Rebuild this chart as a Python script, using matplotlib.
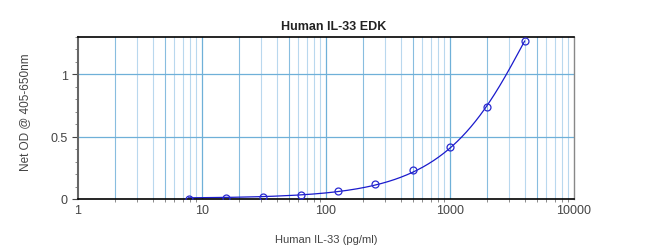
import numpy as np
import matplotlib
matplotlib.use("Agg")
import matplotlib.pyplot as plt
from matplotlib.ticker import LogLocator, FixedLocator, NullFormatter, MultipleLocator

plt.rcParams["font.family"] = ["Liberation Sans", "DejaVu Sans"]

conc = [7.8, 15.6, 31.25, 62.5, 125, 250, 500, 1000, 2000, 4000]
od = [0.0, 0.005, 0.015, 0.03, 0.063, 0.12, 0.23, 0.42, 0.735, 1.27]
xticks = [1, 10, 100, 1000, 10000]
xticklabels = ["1", "10", "100", "1000", "10000"]
yticks = [0, 0.5, 1]
yticklabels = ["0", "0.5", "1"]

fig = plt.figure(figsize=(6.5, 2.53), dpi=100)
ax = fig.add_axes([0.12, 0.2095, 0.763, 0.6405])
ax.set_xscale("log")
ax.set_xlim(1, 10000)
ax.set_ylim(0, 1.3)

# grid lines
for dec in [1, 10, 100, 1000]:
    for m in range(1, 10):
        v = dec * m
        if v <= 1:
            continue
        if m == 1:
            ax.axvline(v, color="#6fb0d8", lw=0.9, zorder=0)
        elif m in (2, 5):
            ax.axvline(v, color="#88bddf", lw=0.8, zorder=0)
        else:
            ax.axvline(v, color="#b9d8ee", lw=0.8, zorder=0)
for yv in [0.5, 1.0]:
    ax.axhline(yv, color="#6fb0d8", lw=0.9, zorder=0)

# fitted curve
c = np.polyfit(np.array(conc), np.array(od), 2)
xs = np.linspace(conc[0], conc[-1], 400)
ax.plot(xs, np.polyval(c, xs), color="#1a1acc", lw=0.9, zorder=2)
ax.plot(conc, od, linestyle="none", marker="o", ms=5, mfc="none",
        mec="#2a2ad0", mew=0.9, zorder=3)

ax.xaxis.set_major_locator(FixedLocator(xticks))
ax.set_xticklabels(xticklabels)
ax.xaxis.set_minor_locator(LogLocator(base=10, subs=(2, 3, 4, 5, 6, 7, 8, 9)))
ax.xaxis.set_minor_formatter(NullFormatter())
ax.set_yticks(yticks)
ax.set_yticklabels(yticklabels)
ax.yaxis.set_minor_locator(MultipleLocator(0.1))

ax.tick_params(axis="both", which="major", labelsize=9, colors="#444444",
               length=4, width=0.8, direction="out")
ax.tick_params(axis="x", which="minor", length=2, width=0.6, colors="#777777")
ax.tick_params(axis="y", which="minor", length=2, width=0.6, colors="#777777")
ax.tick_params(axis="x", which="major", length=0)

for s in ["top", "bottom"]:
    ax.spines[s].set_color("black")
    ax.spines[s].set_linewidth(1.2)
ax.spines["left"].set_color("#666666")
ax.spines["left"].set_linewidth(1.5)
ax.spines["right"].set_color("#888888")
ax.spines["right"].set_linewidth(1.0)

ax.set_title("Human IL-33 EDK", fontsize=9, fontweight="bold", color="#222222",
             pad=6, x=0.516)
ax.set_xlabel("Human IL-33 (pg/ml)", fontsize=8, color="#444444", labelpad=13)
ax.set_ylabel("Net OD @ 405-650nm", fontsize=8.5, color="#444444")
ax.yaxis.set_label_coords(-0.094, 0.54)

fig.savefig("out.png", dpi=100)
